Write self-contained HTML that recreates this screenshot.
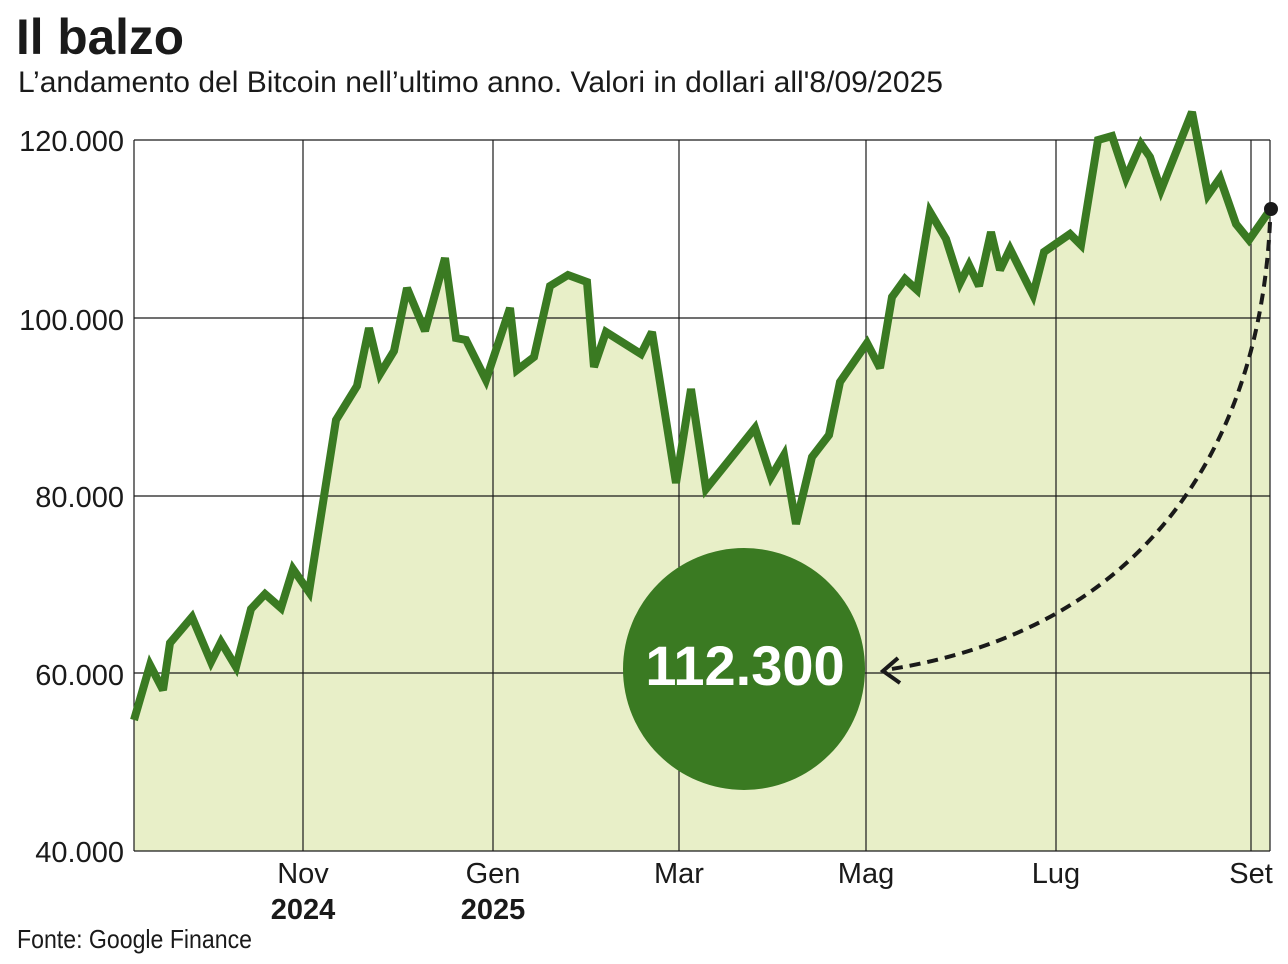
<!DOCTYPE html>
<html><head><meta charset="utf-8"><style>
body{margin:0;background:#fff;width:1288px;height:964px;overflow:hidden}
svg{display:block}
text{font-family:"Liberation Sans Narrow","Liberation Sans",sans-serif;fill:#1a1a1a}
</style></head><body>
<svg width="1288" height="964" viewBox="0 0 1288 964">
<text x="16" y="54" font-size="50" font-weight="bold" textLength="168" lengthAdjust="spacingAndGlyphs">Il balzo</text>
<text x="18" y="92" font-size="30" textLength="925" lengthAdjust="spacingAndGlyphs">L’andamento del Bitcoin nell’ultimo anno. Valori in dollari all'8/09/2025</text>
<polygon fill="#e8efc8" points="134,720 150,665 163,690 170,643 192,617 211,662 221,642 236,667 251,609 265,594 281,608 293,569 309,592 336,420 357,386 369,328 380,374 394,351 407,288 425,331 445,258 456,338 466,340 486,380 510,308 517,370 534,357 550,286 568,275 587,282 594,367 606,332 641,354 652,332 676,483 691,389 706,489 755,428 771,477 784,455 796,524 812,457 829,435 840,382 867,343 880,368 892,297 905,279 917,290 930,212 946,239 960,283 969,265 979,286 991,232 1000,270 1010,249 1033,295 1044,252 1070,234 1081,245 1098,140 1112,136 1126,178 1141,144 1150,157 1161,190 1192,112 1208,195 1220,178 1236,224 1249,240 1270,210 1270,851 134,851"/>
<g stroke="#1a1a1a" stroke-width="1.2">
<line x1="134" y1="140" x2="1270" y2="140"/><line x1="134" y1="318" x2="1270" y2="318"/>
<line x1="134" y1="496" x2="1270" y2="496"/><line x1="134" y1="673" x2="1270" y2="673"/>
<line x1="134" y1="851" x2="1270" y2="851"/>
<line x1="134" y1="140" x2="134" y2="851"/><line x1="1270" y1="140" x2="1270" y2="851"/>
<line x1="303" y1="140" x2="303" y2="851"/><line x1="493" y1="140" x2="493" y2="851"/>
<line x1="679" y1="140" x2="679" y2="851"/><line x1="866" y1="140" x2="866" y2="851"/>
<line x1="1056" y1="140" x2="1056" y2="851"/><line x1="1251" y1="140" x2="1251" y2="851"/>
</g>
<g font-size="29" text-anchor="end">
<text x="124" y="151">120.000</text><text x="124" y="330">100.000</text>
<text x="124" y="507">80.000</text><text x="124" y="685">60.000</text><text x="124" y="862">40.000</text>
</g>
<g font-size="29" text-anchor="middle">
<text x="303" y="883">Nov</text><text x="493" y="883">Gen</text><text x="679" y="883">Mar</text>
<text x="866" y="883">Mag</text><text x="1056" y="883">Lug</text><text x="1251" y="883">Set</text>
<text x="303" y="919" font-weight="bold">2024</text><text x="493" y="919" font-weight="bold">2025</text>
</g>
<polyline fill="none" stroke="#3a7a22" stroke-width="8" stroke-linejoin="miter" stroke-miterlimit="3" points="134,720 150,665 163,690 170,643 192,617 211,662 221,642 236,667 251,609 265,594 281,608 293,569 309,592 336,420 357,386 369,328 380,374 394,351 407,288 425,331 445,258 456,338 466,340 486,380 510,308 517,370 534,357 550,286 568,275 587,282 594,367 606,332 641,354 652,332 676,483 691,389 706,489 755,428 771,477 784,455 796,524 812,457 829,435 840,382 867,343 880,368 892,297 905,279 917,290 930,212 946,239 960,283 969,265 979,286 991,232 1000,270 1010,249 1033,295 1044,252 1070,234 1081,245 1098,140 1112,136 1126,178 1141,144 1150,157 1161,190 1192,112 1208,195 1220,178 1236,224 1249,240 1270,210"/>
<circle cx="1271" cy="209" r="7" fill="#1a1a1a"/>
<path d="M1270,222 C1260,440 1150,630 885,670" fill="none" stroke="#1a1a1a" stroke-width="4" stroke-dasharray="11,7"/>
<polyline points="898,658 883,671 900,683" fill="none" stroke="#1a1a1a" stroke-width="4"/>
<circle cx="744" cy="669" r="121" fill="#3a7a22"/>
<text x="745" y="685" font-size="56" font-weight="bold" text-anchor="middle" style="fill:#fff">112.300</text>
<text x="17" y="948" font-size="26" textLength="235" lengthAdjust="spacingAndGlyphs">Fonte: Google Finance</text>
</svg>
</body></html>
